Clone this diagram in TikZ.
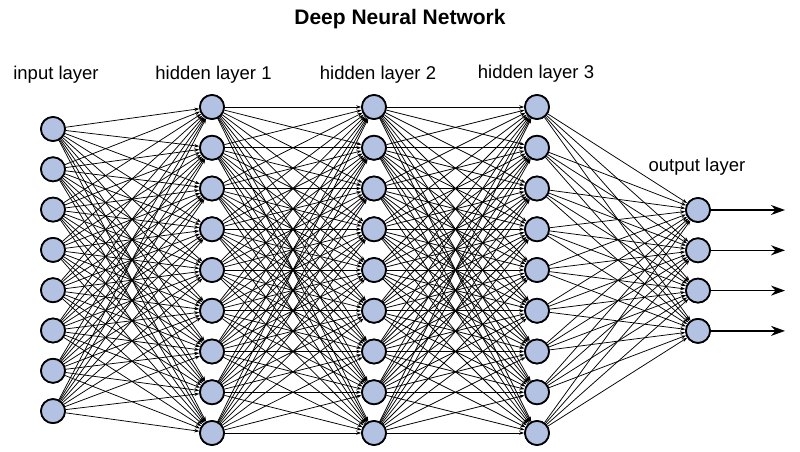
\documentclass[tikz,border=0pt]{standalone}
\usepackage{fontspec}
\setmainfont{Liberation Sans}
\usetikzlibrary{arrows.meta}
\definecolor{nodefill}{HTML}{B3C1E2}
\begin{document}
\begin{tikzpicture}[x=1pt,y=-1pt,
  neuron/.style={circle,draw=black,line width=1.7pt,fill=nodefill,minimum size=24pt,inner sep=0pt},
  conn/.style={line width=0.75pt,-{Stealth[length=5pt,width=3.5pt]}},
  outarrow/.style={line width=1.6pt,-{Stealth[length=14pt,width=10pt]}},
  lbl/.style={font=\fontsize{18.5}{20}\selectfont,anchor=base}]
\useasboundingbox (0,0) rectangle (800,452);
\node[font=\bfseries\fontsize{21}{24}\selectfont,anchor=base] (title) at (400,25) {Deep Neural Network};
\node[lbl] (lin) at (56,79) {input layer};
\node[lbl] (lh1) at (213.5,79) {hidden layer 1};
\node[lbl] (lh2) at (378,80) {hidden layer 2};
\node[lbl] (lh3) at (536,78) {hidden layer 3};
\node[lbl] (lout) at (697,171) {output layer};
\foreach \i in {0,...,7} \coordinate (I\i) at (53,129+40.3*\i);
\foreach \j in {0,...,8} {
  \coordinate (A\j) at (212,107+40.75*\j);
  \coordinate (B\j) at (374,107+40.75*\j);
  \coordinate (C\j) at (537,107+40.75*\j);
}
\foreach \k in {0,...,3} \coordinate (O\k) at (698,210+40.3*\k);
% nodes (named)
\foreach \i in {0,...,7} \node[neuron] (in\i) at (I\i) {};
\foreach \j in {0,...,8} {
  \node[neuron] (ha\j) at (A\j) {};
  \node[neuron] (hb\j) at (B\j) {};
  \node[neuron] (hc\j) at (C\j) {};
}
\foreach \k in {0,...,3} \node[neuron] (out\k) at (O\k) {};
% connections
\foreach \i in {0,...,7} \foreach \j in {0,...,8} \draw[conn] (in\i) -- (ha\j);
\foreach \i in {0,...,8} \foreach \j in {0,...,8} {
  \draw[conn] (ha\i) -- (hb\j);
  \draw[conn] (hb\i) -- (hc\j);
}
\foreach \i in {0,...,8} \foreach \k in {0,...,3} \draw[conn] (hc\i) -- (out\k);
\foreach \k in {0,...,3} {
  \coordinate (E\k) at (785,210+40.3*\k);
  \draw[outarrow] (out\k) -- (E\k);
}
% redraw nodes on top of the connections
\foreach \i in {0,...,7} \node[neuron] at (I\i) {};
\foreach \j in {0,...,8} {
  \node[neuron] at (A\j) {};
  \node[neuron] at (B\j) {};
  \node[neuron] at (C\j) {};
}
\foreach \k in {0,...,3} \node[neuron] at (O\k) {};
\end{tikzpicture}
\end{document}
